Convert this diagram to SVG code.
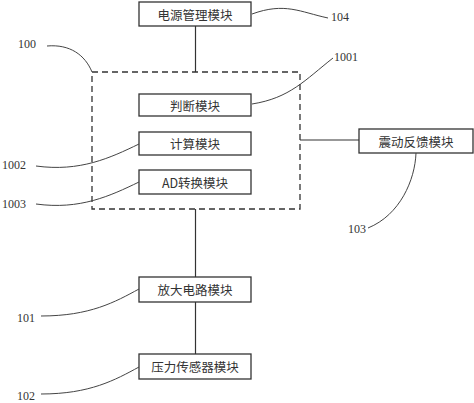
<svg xmlns="http://www.w3.org/2000/svg" width="474" height="403" viewBox="0 0 474 403">
<style>
.box{fill:#fff;stroke:#333;stroke-width:1.3}
.t{font-family:"Noto Sans CJK SC","Liberation Serif",serif;font-size:12.5px;fill:#333;text-anchor:middle;dominant-baseline:central}
.n{font-family:"Liberation Serif",serif;font-size:12px;fill:#333;dominant-baseline:central}
.c{fill:none;stroke:#333;stroke-width:1.2}
.l{fill:none;stroke:#444;stroke-width:1}
</style>
<rect width="474" height="403" fill="#fff"/>
<g id="connectors">
<line class="c" x1="195.5" y1="26" x2="195.5" y2="72"/>
<line class="c" x1="300" y1="140" x2="359" y2="140"/>
<line class="c" x1="195.5" y1="209" x2="195.5" y2="277"/>
<line class="c" x1="195.5" y1="302" x2="195.5" y2="354"/>
</g>
<g id="group100">
<rect x="92" y="72" width="208" height="137" fill="none" stroke="#333" stroke-width="1.3" stroke-dasharray="6,4"/>
</g>
<g id="n104"><rect class="box" x="139" y="2" width="112" height="24"/><text class="t" x="195" y="14">电源管理模块</text></g>
<g id="n1001"><rect class="box" x="139" y="94" width="112" height="22"/><text class="t" x="195" y="105">判断模块</text></g>
<g id="n1002"><rect class="box" x="139" y="132" width="112" height="23"/><text class="t" x="195" y="143.5">计算模块</text></g>
<g id="n1003"><rect class="box" x="139" y="170" width="112" height="24"/><text class="t" x="195" y="182">AD转换模块</text></g>
<g id="n103"><rect class="box" x="359" y="129" width="114" height="24"/><text class="t" x="416" y="141">震动反馈模块</text></g>
<g id="n101"><rect class="box" x="139" y="277" width="112" height="25"/><text class="t" x="195" y="289.5">放大电路模块</text></g>
<g id="n102"><rect class="box" x="139" y="354" width="112" height="25"/><text class="t" x="195" y="366.5">压力传感器模块</text></g>
<g id="leaders">
<path class="l" d="M252,14 C285,2 300,12 328,18"/>
<path class="l" d="M47,46 C70,44 85,55 92,72"/>
<path class="l" d="M252,104 C290,98 305,80 333,58"/>
<path class="l" d="M36,166 C80,172 110,158 139,144"/>
<path class="l" d="M36,204 C80,210 110,196 139,182"/>
<path class="l" d="M416,153 C415,180 400,215 368,228"/>
<path class="l" d="M41,316 C90,316 115,302 139,289"/>
<path class="l" d="M41,394 C90,394 115,380 139,367"/>
</g>
<g id="labels">
<text class="n" x="331" y="17">104</text>
<text class="n" x="18" y="44">100</text>
<text class="n" x="334" y="57">1001</text>
<text class="n" x="2" y="165">1002</text>
<text class="n" x="2" y="204">1003</text>
<text class="n" x="348" y="229">103</text>
<text class="n" x="17" y="318">101</text>
<text class="n" x="17" y="396">102</text>
</g>
</svg>
